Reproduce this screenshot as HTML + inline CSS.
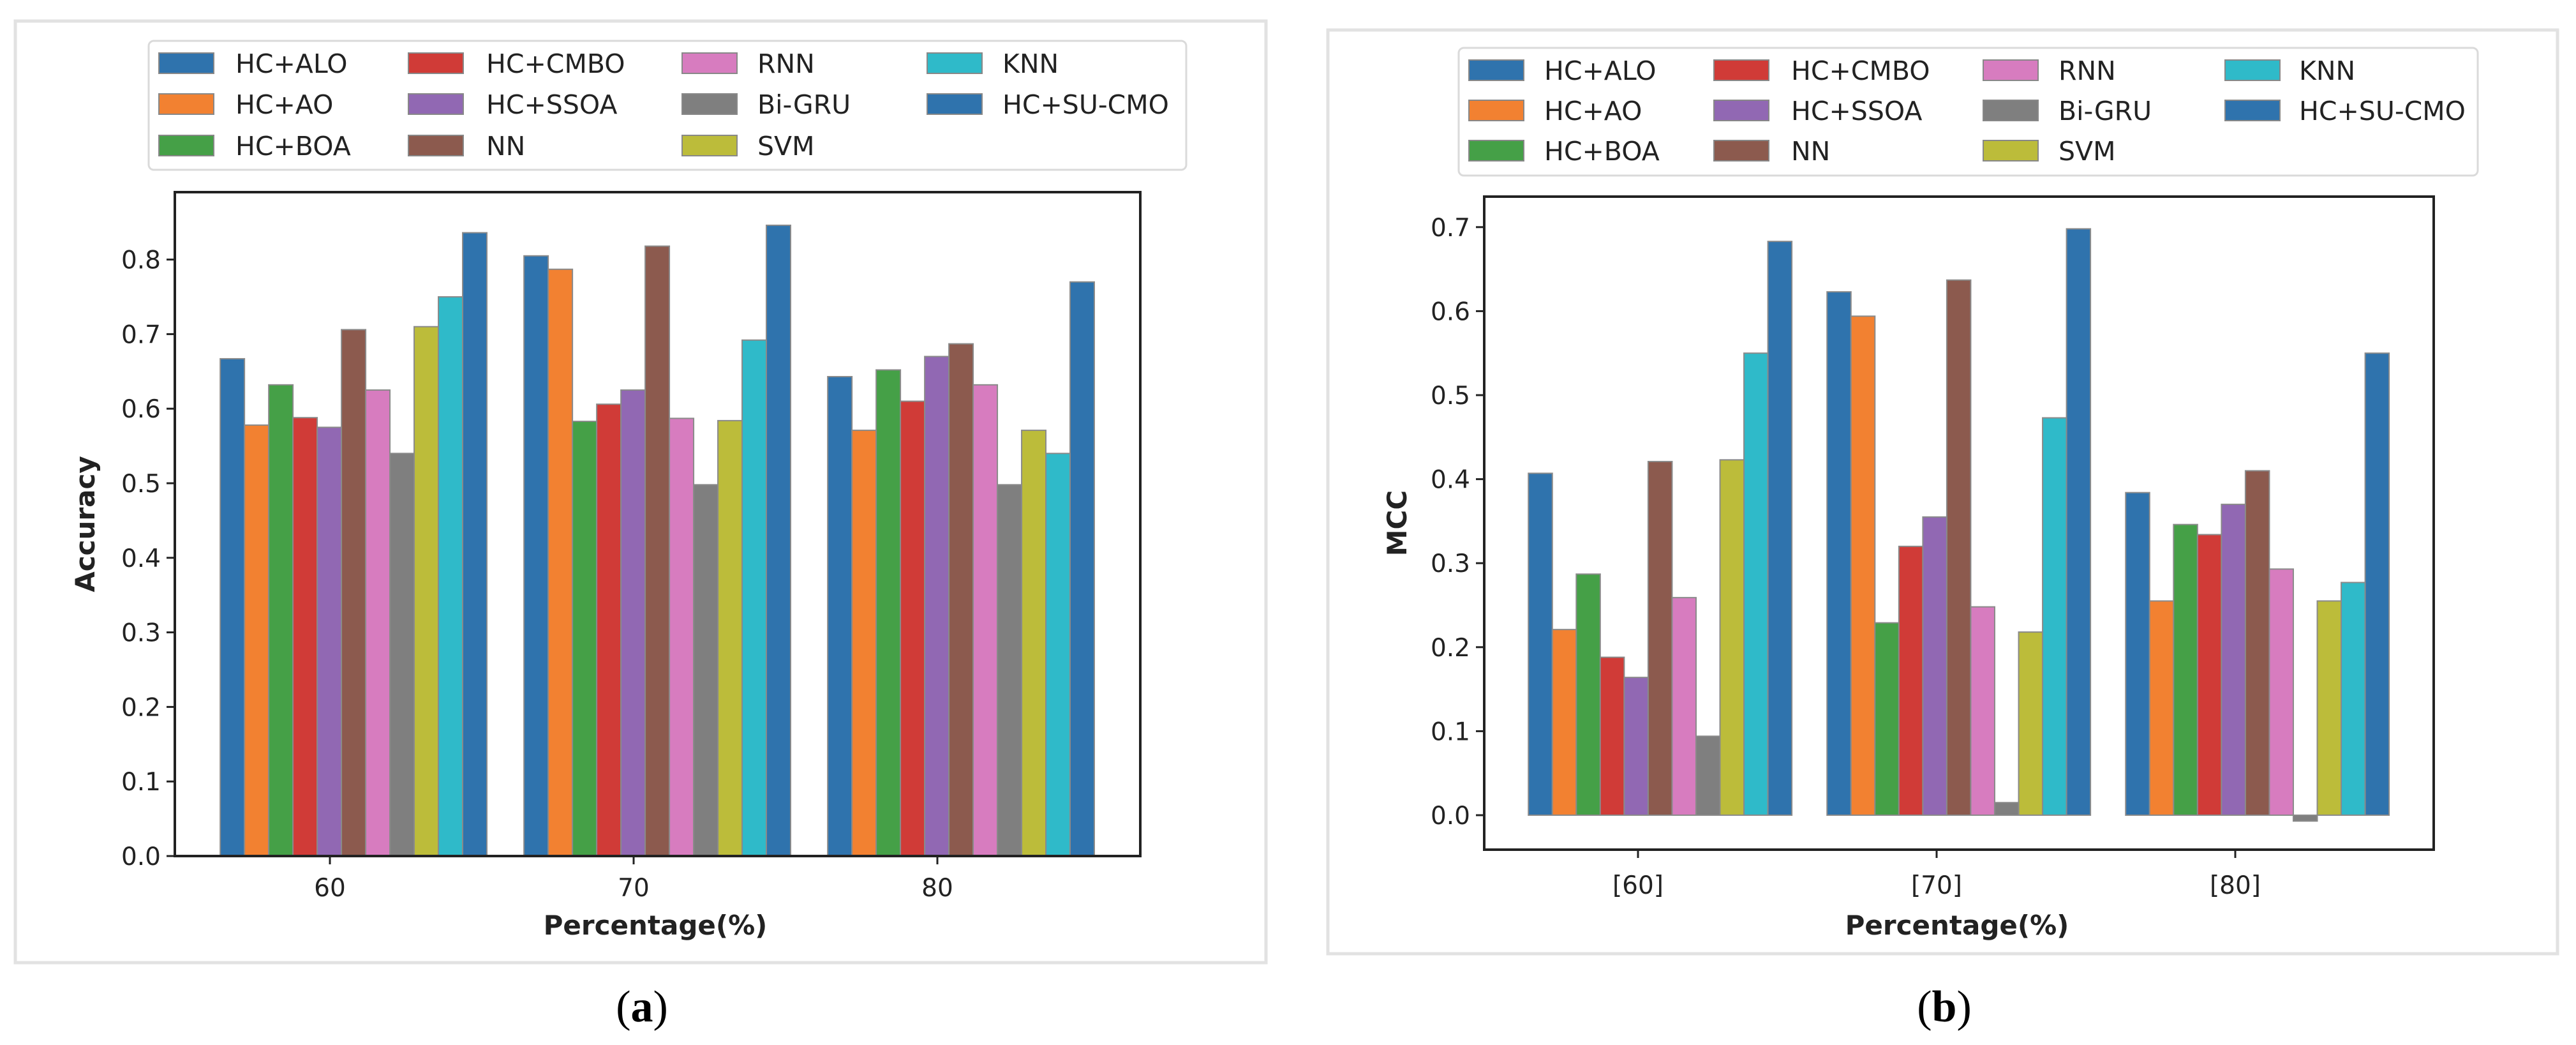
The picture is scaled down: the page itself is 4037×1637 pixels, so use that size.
<!DOCTYPE html>
<html><head><meta charset="utf-8"><style>
html,body{margin:0;padding:0;background:#fff;}
svg{display:block;font-family:"DejaVu Sans","Liberation Sans",sans-serif;}
</style></head><body>
<svg id="fig" width="4037" height="1637" viewBox="0 0 4037 1637" xmlns="http://www.w3.org/2000/svg">
<rect x="24" y="33" width="1960" height="1475" fill="#fff" stroke="#e2e2e2" stroke-width="5"/>
<rect x="2081" y="47" width="1927" height="1447" fill="#fff" stroke="#e2e2e2" stroke-width="5"/>
<text x="1006" y="1600" font-family="Liberation Serif,serif" font-size="70" text-anchor="middle">(<tspan font-weight="bold">a</tspan>)</text>
<text x="3047" y="1600" font-family="Liberation Serif,serif" font-size="70" text-anchor="middle">(<tspan font-weight="bold">b</tspan>)</text>
<g id="chartA"></g>
<g id="chartB"></g>
</svg>
<script>
const seriesNames = ["HC+ALO","HC+AO","HC+BOA","HC+CMBO","HC+SSOA","NN","RNN","Bi-GRU","SVM","KNN","HC+SU-CMO"];
const seriesColors = ["#2f73ad","#f28131","#45a047","#d03b37","#9168b3","#8c5a4e","#d77cbf","#7f7f7f","#bcbc3a","#2fbac9","#2f73ad"];
const catsA = ["60","70","80"];
const catsB = ["[60]","[70]","[80]"];
const accuracy60 = [0.667,0.578,0.632,0.588,0.575,0.706,0.625,0.540,0.710,0.750,0.836];
const accuracy70 = [0.805,0.787,0.583,0.606,0.625,0.818,0.587,0.498,0.584,0.692,0.846];
const accuracy80 = [0.643,0.571,0.652,0.610,0.670,0.687,0.632,0.498,0.571,0.540,0.770];
const mcc60 = [0.407,0.221,0.287,0.188,0.164,0.421,0.259,0.094,0.423,0.550,0.683];
const mcc70 = [0.623,0.594,0.229,0.320,0.355,0.637,0.248,0.015,0.218,0.473,0.698];
const mcc80 = [0.384,0.255,0.346,0.334,0.370,0.410,0.293,-0.007,0.255,0.277,0.550];
const ticksA = [0,0.1,0.2,0.3,0.4,0.5,0.6,0.7,0.8];
const ticksB = [0,0.1,0.2,0.3,0.4,0.5,0.6,0.7];

const NS="http://www.w3.org/2000/svg";
function mk(parent,tag,attrs,text){const e=document.createElementNS(NS,tag);for(const k in attrs)e.setAttribute(k,attrs[k]);if(text!==undefined)e.textContent=text;parent.appendChild(e);return e;}

function drawChart(g,cfg,values,cats,ticks){
  const xs=u=>cfg.x0+u*cfg.unit;
  const ys=v=>cfg.zeroY-v*cfg.per01*10;
  const lg=mk(g,"rect",{x:cfg.leg[0],y:cfg.leg[1],width:cfg.leg[2]-cfg.leg[0],height:cfg.leg[3]-cfg.leg[1],rx:8,fill:"#fff",stroke:"#dadada","stroke-width":3});
  
  
  seriesNames.forEach((n,i)=>{
    const col=Math.floor(i/3),row=i%3;
    const px=cfg.legCols[col],py=cfg.legRows[row];
    const e=mk(g,"g",{});
    
    
    mk(e,"rect",{x:px,y:py-16,width:86,height:32,fill:seriesColors[i],stroke:"#888","stroke-width":2});
    mk(e,"text",{x:cfg.legTexts[col],y:py+15,"font-size":41,fill:"#222"},n);
  });
  values.forEach((vals,c)=>{
    vals.forEach((v,i)=>{
      const left=xs(c+cfg.off+i*cfg.bw),w=cfg.bw*cfg.unit;
      const y0=ys(0),y1=ys(v);
      const r=mk(g,"rect",{x:left,y:Math.min(y0,y1),width:w,height:Math.max(1,Math.abs(y0-y1)),fill:seriesColors[i],stroke:"#8a8a8a","stroke-width":2});
      
      
    });
  });
  const fr=mk(g,"rect",{x:cfg.plot[0],y:cfg.plot[1],width:cfg.plot[2]-cfg.plot[0],height:cfg.plot[3]-cfg.plot[1],fill:"none",stroke:"#222","stroke-width":4});
  
  
  ticks.forEach(t=>{
    const y=ys(t);
    mk(g,"line",{x1:cfg.plot[0]-13,x2:cfg.plot[0],y1:y,y2:y,stroke:"#222","stroke-width":3});
    const tl=mk(g,"text",{x:cfg.plot[0]-22,y:y+14,"font-size":39,"text-anchor":"end",fill:"#222"},t.toFixed(1));
    
    
  });
  cats.forEach((c,i)=>{
    const x=xs(i);
    mk(g,"line",{x1:x,x2:x,y1:cfg.plot[3],y2:cfg.plot[3]+13,stroke:"#222","stroke-width":3});
    const tl=mk(g,"text",{x:x,y:cfg.tickY,"font-size":39,"text-anchor":"middle",fill:"#222"},c);
    
    
  });
  const xt=mk(g,"text",{x:cfg.xtX,y:1464,"font-size":42,"font-weight":"bold","text-anchor":"middle",fill:"#222"},"Percentage(%)");
  
  
  const cy=(cfg.plot[1]+cfg.plot[3])/2;
  const yt=mk(g,"text",{x:cfg.ytX,y:cy,"font-size":42,"font-weight":"bold","text-anchor":"middle",fill:"#222",transform:"rotate(-90 "+cfg.ytX+" "+cy+")"},cfg.ytitle);
  
  
}

drawChart(document.getElementById("chartA"),{
  x0:517,unit:476,off:-0.361,bw:0.0798,zeroY:1341,per01:116.8,plot:[274,301,1787,1341],
  leg:[233,64,1859,266],legCols:[249,640,1069,1453],legTexts:[369,762,1187,1571],legRows:[99,163,228],
  tickY:1404,xtX:1027,ytX:148,ytitle:"Accuracy"
},[accuracy60,accuracy70,accuracy80],catsA,ticksA);

drawChart(document.getElementById("chartB"),{
  x0:2567,unit:468,off:-0.367,bw:0.0802,zeroY:1277,per01:131.6,plot:[2326,308,3814,1331],
  leg:[2286,75,3883,275],legCols:[2302,2686,3108,3487],legTexts:[2420,2807,3226,3603],legRows:[110,173,236],
  tickY:1400,xtX:3067,ytX:2204,ytitle:"MCC"
},[mcc60,mcc70,mcc80],catsB,ticksB);
</script>
</body></html>
